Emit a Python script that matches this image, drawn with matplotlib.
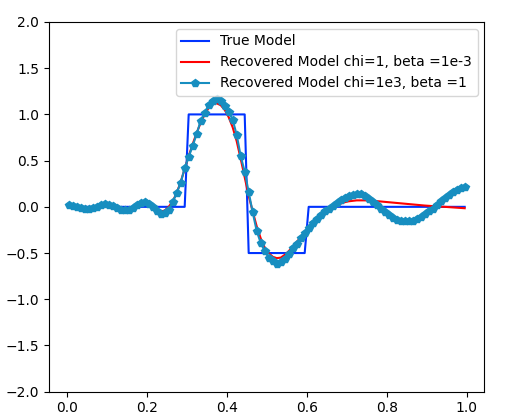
import numpy as np
import matplotlib
matplotlib.use("Agg")
import matplotlib.pyplot as plt

# cell centres of a 100-cell mesh on [0, 1]
x = (np.arange(100) + 0.5) / 100

# true model: 0, then 1 (x>0.3), then -0.5 (x>0.45), then 0 (x>0.6)
m_true = [0.0] * 30 + [1.0] * 15 + [-0.5] * 15 + [0.0] * 40

# recovered model, chi=1, beta=1e-3
m_rec1 = [
    0.01, 0.005, 0.0, -0.01, -0.015, -0.015, -0.01, 0.0, 0.01, 0.015,
    0.015, 0.005, -0.005, -0.015, -0.02, -0.02, -0.01, 0.005, 0.02, 0.03,
    0.025, 0.0, -0.03, -0.05, -0.04, 0.0, 0.06, 0.15, 0.27, 0.41,
    0.55, 0.68, 0.80, 0.91, 1.00, 1.07, 1.11, 1.12, 1.10, 1.05,
    0.97, 0.86, 0.71, 0.52, 0.32, 0.12, -0.05, -0.21, -0.34, -0.44,
    -0.50, -0.54, -0.555, -0.55, -0.52, -0.48, -0.43, -0.38, -0.33, -0.27,
    -0.22, -0.17, -0.12, -0.08, -0.05, -0.02, 0.0, 0.02, 0.035, 0.05,
    0.06, 0.065, 0.07, 0.07, 0.07, 0.068, 0.065, 0.062, 0.058, 0.054,
    0.05, 0.046, 0.042, 0.038, 0.034, 0.03, 0.026, 0.022, 0.018, 0.014,
    0.011, 0.008, 0.005, 0.002, 0.0, -0.003, -0.006, -0.009, -0.012, -0.015,
]

# recovered model, chi=1e3, beta=1
m_rec2 = [
    0.02, 0.01, 0.0, -0.015, -0.025, -0.025, -0.015, 0.0, 0.02, 0.03,
    0.025, 0.01, -0.01, -0.03, -0.035, -0.03, -0.01, 0.02, 0.04, 0.047,
    0.035, 0.0, -0.05, -0.08, -0.07, -0.03, 0.05, 0.15, 0.26, 0.42,
    0.54, 0.66, 0.79, 0.93, 1.02, 1.10, 1.15, 1.17, 1.14, 1.09,
    1.03, 0.94, 0.78, 0.55, 0.38, 0.16, -0.06, -0.26, -0.39, -0.48,
    -0.55, -0.59, -0.62, -0.60, -0.56, -0.51, -0.45, -0.40, -0.34, -0.28,
    -0.23, -0.18, -0.13, -0.09, -0.05, -0.02, 0.01, 0.04, 0.07, 0.10,
    0.12, 0.13, 0.14, 0.14, 0.12, 0.09, 0.05, 0.02, -0.02, -0.06,
    -0.09, -0.12, -0.14, -0.15, -0.155, -0.155, -0.15, -0.13, -0.11, -0.08,
    -0.05, -0.02, 0.02, 0.06, 0.10, 0.13, 0.16, 0.18, 0.20, 0.21,
]

fig = plt.figure(figsize=(5.06, 4.19), dpi=100)
ax = fig.add_axes([0.0966, 0.0652, 0.9575 - 0.0966, 0.9475 - 0.0652])

ax.plot(x, m_true, color='#0033ff', label='True Model')
ax.plot(x, m_rec1, color='r', label='Recovered Model chi=1, beta =1e-3')
ax.plot(x, m_rec2, color='#178ec0', marker='p',
        label='Recovered Model chi=1e3, beta =1')

ax.set_ylim(-2, 2)
ax.legend(loc='upper right')

fig.savefig('out.png', dpi=100)
